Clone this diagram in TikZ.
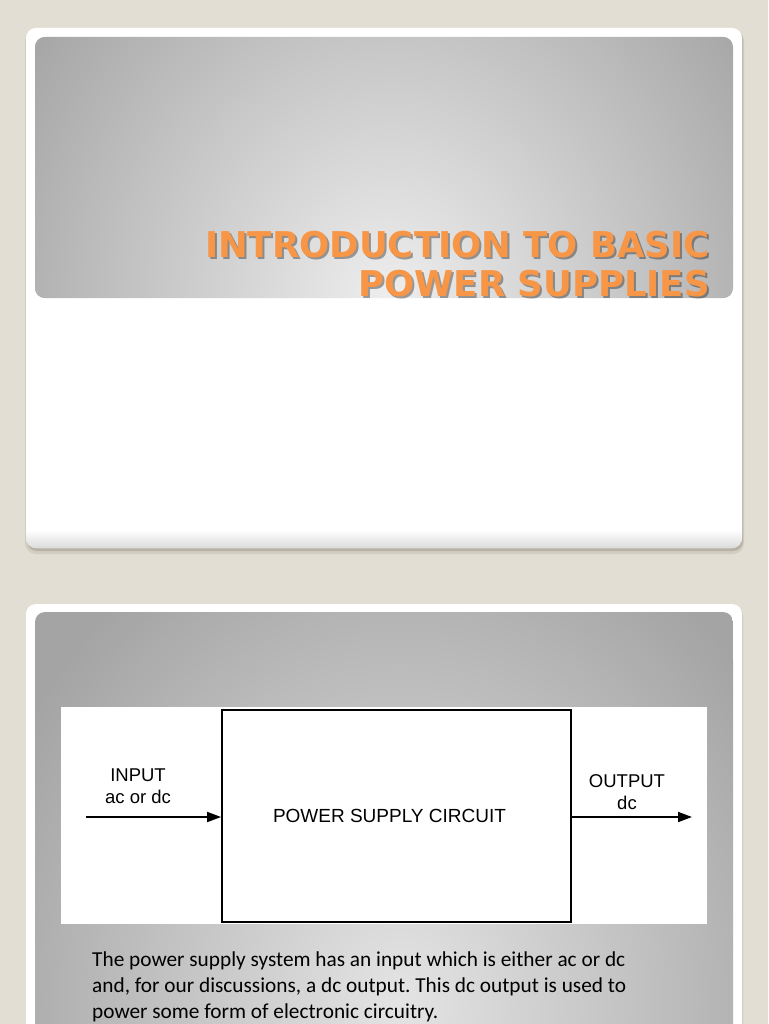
\documentclass[tikz,border=0pt]{standalone}
\usepackage{fontspec}
\usetikzlibrary{arrows.meta}
\newfontfamily\titlefont{DejaVu Sans}
\newfontfamily\arialfont{Liberation Sans}
\newfontfamily\bodyfont{Carlito}
\definecolor{pagebg}{HTML}{E3DED3}
\definecolor{cardshadow}{HTML}{A39C8E}
\definecolor{panelout}{HTML}{A4A4A4}
\definecolor{panelin1}{HTML}{EEEEEE}
\definecolor{panelin2}{HTML}{E4E4E4}
\definecolor{titleorange}{HTML}{F79646}
\tikzset{
  cardbox/.style={fill=white, rounded corners=10pt},
  titletext/.style={font=\titlefont\bfseries\fontsize{35.5}{40}\selectfont, inner sep=0pt, anchor=base east},
  titleshadow/.style={titletext, text=black, opacity=0.35},
  difftext/.style={font=\arialfont\fontsize{18.5}{22}\selectfont, inner sep=0pt, anchor=base},
  bodytext/.style={font=\bodyfont\fontsize{21.3}{26}\selectfont, inner sep=0pt, anchor=base west, text=black},
  blockbox/.style={draw=black, line width=1.8pt, fill=white, minimum width=349pt, minimum height=212pt, inner sep=0pt},
  blocklabel/.style={font=\arialfont\fontsize{19}{22}\selectfont, inner sep=0pt},
  flow/.style={line width=1.8pt, -{Triangle[length=14pt,width=10pt]}}
}
\frenchspacing
\begin{document}
\begin{tikzpicture}[x=1pt,y=-1pt]
\useasboundingbox (0,0) rectangle (768,1024);
\fill[pagebg] (0,0) rectangle (768,1024);

% ---------- slide 1 ----------
\fill[cardshadow, opacity=0.25, rounded corners=11pt] (25,30) rectangle (744,554);
\fill[cardshadow, opacity=0.55, rounded corners=10pt] (27,30) rectangle (743,551);
\fill[cardbox] (26,28) rectangle (742,548);
\begin{scope}
  \clip[rounded corners=10pt] (26,28) rectangle (742,548);
  \shade[top color=white, bottom color=black!14] (26,530) rectangle (742,548);
\end{scope}
\begin{scope}
  \clip[rounded corners=10pt] (35,37) rectangle (733,298);
  \fill[panelout] (35,37) rectangle (733,298);
  \shade[inner color=panelin1, outer color=panelout] (390,300) ellipse [x radius=440, y radius=480];
\end{scope}
\node[titleshadow] (t1s) at (712,259.5) {INTRODUCTION TO BASIC};
\node[titleshadow] (t2s) at (712,298.5) {POWER SUPPLIES};
\node[titletext, text=titleorange] (t1) at (710,257.5) {INTRODUCTION TO BASIC};
\node[titletext, text=titleorange] (t2) at (710,296.5) {POWER SUPPLIES};

% ---------- slide 2 ----------
\fill[cardshadow, opacity=0.35, rounded corners=10pt] (27,606) rectangle (743,1040);
\fill[cardbox] (26,604) rectangle (742,1040);
\begin{scope}
  \clip[rounded corners=10pt] (35,612) rectangle (733,1040);
  \fill[panelout] (35,612) rectangle (733,1040);
  \shade[inner color=panelin2, outer color=panelout] (400,1000) ellipse [x radius=440, y radius=520];
\end{scope}

% diagram
\fill[white] (61,707) rectangle (707,924);
\node[blockbox] (psc) at (396.5,816) {};
\node[blocklabel] (pscl) at ([xshift=-7pt]psc.center) {POWER SUPPLY CIRCUIT};
\coordinate (inS) at (86,817);
\coordinate (outE) at (692,817);
\draw[flow] (inS) -- (inS -| psc.west);
\draw[flow] (outE -| psc.east) -- (outE);
\node[difftext] (inl1) at (138,781) {INPUT};
\node[difftext] (inl2) at (138,803) {ac or dc};
\node[difftext] (outl1) at (627,787) {OUTPUT};
\node[difftext] (outl2) at (627,809) {dc};

% paragraph
\node[bodytext] (p1) at (92,966) {The power supply system has an input which is either ac or dc};
\node[bodytext] (p2) at (92,992) {and, for our discussions, a dc output. This dc output is used to};
\node[bodytext] (p3) at (92,1018) {power some form of electronic circuitry.};
\end{tikzpicture}
\end{document}
